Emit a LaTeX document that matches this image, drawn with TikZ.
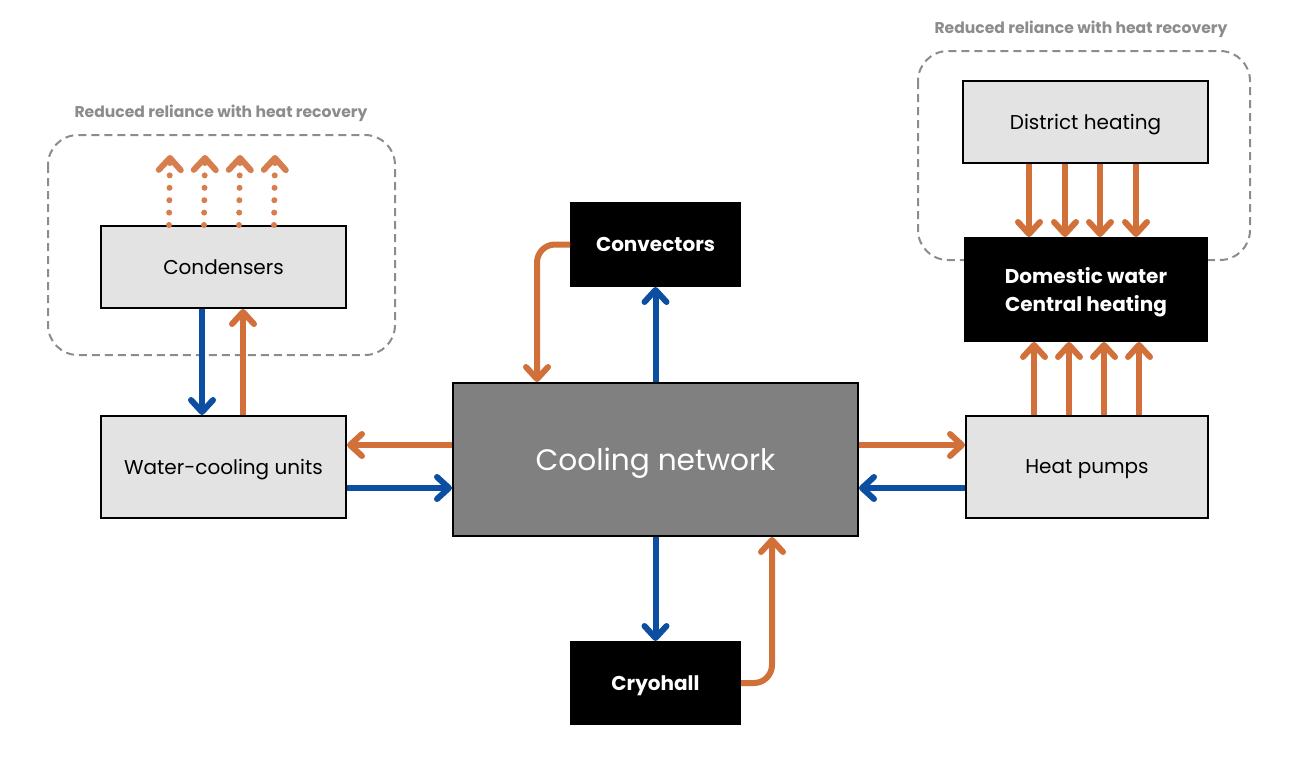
\documentclass[tikz,border=0pt]{standalone}
\usepackage{fontspec}
\setmainfont{Poppins}
\usetikzlibrary{arrows.meta,calc}

\definecolor{heat}{HTML}{D2703A}
\definecolor{cold}{HTML}{0B4EA2}
\definecolor{boxgray}{HTML}{E3E3E3}
\definecolor{netgray}{HTML}{808080}
\definecolor{fencegray}{HTML}{8C8C8C}

\tikzset{
  x=0.5pt, y=-0.5pt,
  unit/.style={draw=black, line width=1pt, fill=boxgray, inner sep=0pt, text depth=0pt,
    font=\fontsize{10}{12}\selectfont},
  plant/.style={draw=black, line width=1pt, fill=black, text=white, inner sep=0pt,
    text depth=0pt, align=center, font=\bfseries\fontsize{10}{14}\selectfont},
  hot/.style={draw=heat, line width=3pt,
    -{Straight Barb[length=6pt,width=11pt,round]}},
  cool/.style={hot, draw=cold},
  hotdots/.style={hot, draw=heat!90!white, line width=3pt, line cap=round,
    dash pattern=on 0pt off 6.2pt},
  fence/.style={draw=fencegray, line width=1pt, dash pattern=on 4pt off 2.5pt,
    rounded corners=15pt},
  fencelabel/.style={text=fencegray, font=\bfseries\fontsize{7.8}{9}\selectfont},
  elbow/.style={rounded corners=9pt}
}

\begin{document}
\begin{tikzpicture}
\useasboundingbox (0,0) rectangle (1300,761);

% heat recovery areas
\draw[fence] (48,135) rectangle (395,355);
\node[fencelabel] (leftnote) at (221,113) {Reduced reliance with heat recovery};
\draw[fence] (918,51) rectangle (1250,260);
\node[fencelabel] (rightnote) at (1081,29) {Reduced reliance with heat recovery};

% units
\node[unit, minimum width=122.5pt, minimum height=41pt] (cond) at (223.5,267) {Condensers};
\node[unit, minimum width=122.5pt, minimum height=51pt] (wcu) at (223.5,467) {Water-cooling units};
\node[unit, minimum width=202.5pt, minimum height=76.5pt, fill=netgray, text=white,
  font=\fontsize{14.8}{18}\selectfont] (cn) at (655.5,459.5) {Cooling network};
\node[plant, minimum width=84.5pt, minimum height=41.5pt] (conv) at (655.5,244.5) {Convectors};
\node[plant, minimum width=84.5pt, minimum height=41pt] (cryo) at (655.5,683) {Cryohall};
\node[unit, minimum width=121pt, minimum height=51pt] (hp) at (1087,467) {Heat pumps};
\node[plant, minimum width=121pt, minimum height=51.5pt] (dw) at (1086,289.5) {Domestic water\\Central heating};
\node[unit, minimum width=122.5pt, minimum height=41pt] (dh) at (1085.5,122) {District heating};

% condensers and water cooling
\coordinate (vent) at (101,155);
\foreach \dx in {69,104,139,174}
  \draw[hotdots] ($(cond.north west)+(\dx,0)$) -- ($(vent)+(\dx,0)$);
\draw[cool] ($(cond.south west)+(102,0)$) -- ($(wcu.north west)+(102,0)$);
\draw[hot] ($(wcu.north west)+(143,0)$) -- ($(cond.south west)+(143,0)$);
\draw[hot] ($(cn.west)+(0,-14.5)$) -- ($(wcu.east)+(0,-22)$);
\draw[cool] ($(wcu.east)+(0,21)$) -- ($(cn.west)+(0,28.5)$);

% convectors and cryohall
\draw[cool] (cn.north) -- (conv.south);
\draw[hot, elbow] (conv.west) -| ($(cn.north west)+(85,0)$);
\draw[cool] (cn.south) -- (cryo.north);
\draw[hot, elbow] (cryo.east) -| ($(cn.south west)+(320,0)$);

% heat pumps and heating
\draw[hot] ($(cn.east)+(0,-14.5)$) -- ($(hp.west)+(0,-22)$);
\draw[cool] ($(hp.west)+(0,21)$) -- ($(cn.east)+(0,28.5)$);
\foreach \dx in {69,104,139,174}
  \draw[hot] ($(hp.north west)+(\dx,0)$) -- ($(dw.south west)+(\dx+1,0)$);
\foreach \dx in {67,103,138,174}
  \draw[hot] ($(dh.south west)+(\dx,0)$) -- ($(dw.north west)+(\dx-2,0)$);
\end{tikzpicture}
\end{document}
